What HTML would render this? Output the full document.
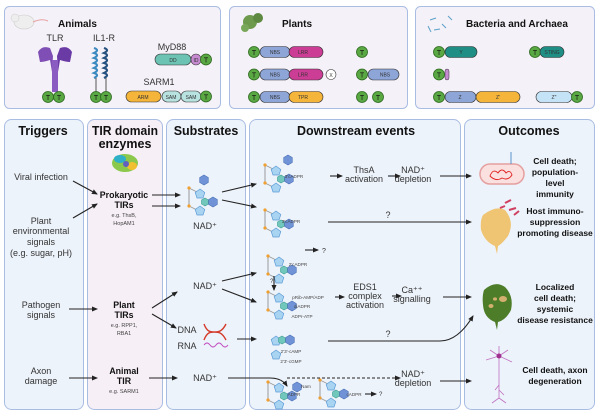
<!DOCTYPE html>
<html><head><meta charset="utf-8"><style>
html,body{margin:0;padding:0;background:#fff;}
svg{display:block;font-family:"Liberation Sans",sans-serif;}
.h{font-weight:bold;font-size:12.5px;text-anchor:middle;fill:#111;}
.t{font-size:9px;fill:#333;text-anchor:middle;}
.b{font-size:8.8px;font-weight:bold;fill:#111;text-anchor:middle;}
.s{font-size:5.5px;fill:#444;text-anchor:middle;}
.x{font-size:4.6px;fill:#444;text-anchor:middle;}
.o{font-size:8.5px;font-weight:bold;fill:#111;text-anchor:middle;}
.a{stroke:#222;stroke-width:1.1;fill:none;marker-end:url(#ar);}
.p{font-size:5px;fill:#333;text-anchor:middle;}
</style></head><body>
<svg width="600" height="416" viewBox="0 0 600 416">
<defs>
<marker id="ar" markerWidth="6" markerHeight="6" refX="5" refY="3" orient="auto" markerUnits="userSpaceOnUse"><path d="M0,0.5 L6,3 L0,5.5z" fill="#222"/></marker>
<g id="pent"><polygon points="0,-5 4.8,-1.5 3,4 -3,4 -4.8,-1.5" fill="#a8d4f2" stroke="#5b9bd5" stroke-width="0.7"/></g>
<g id="hex"><polygon points="0,-5 4.3,-2.5 4.3,2.5 0,5 -4.3,2.5 -4.3,-2.5" fill="#6f93d6" stroke="#4a6fb5" stroke-width="0.6"/></g>
<g id="hext"><polygon points="0,-4 3.5,-2 3.5,2 0,4 -3.5,2 -3.5,-2" fill="#72c7bc" stroke="#3e9e92" stroke-width="0.6"/></g>
<g id="cyc">
<line x1="0" y1="0" x2="0" y2="18" stroke="#999" stroke-width="1"/>
<line x1="0" y1="0" x2="8" y2="4" stroke="#999" stroke-width="0.8"/>
<line x1="0" y1="18" x2="8" y2="22" stroke="#999" stroke-width="0.8"/>
<use href="#pent" x="11" y="6"/><use href="#pent" x="11" y="23"/>
<use href="#hext" x="16" y="14"/><use href="#hex" x="24" y="14"/>
<circle cx="0" cy="0" r="1.6" fill="#f0a030"/><circle cx="0" cy="18" r="1.6" fill="#f0a030"/>
</g>
<g id="tt"><circle r="5.5" fill="#5aa843" stroke="#2d6a1f" stroke-width="0.8"/><text y="3" font-size="7" text-anchor="middle" fill="#111">T</text></g>
</defs>

<!-- top panels -->
<rect x="4.5" y="6.5" width="216" height="102" rx="5" fill="#f5f1f8" stroke="#a9bde3"/>
<rect x="229.5" y="6.5" width="178" height="102" rx="5" fill="#f5f1f8" stroke="#a9bde3"/>
<rect x="415.5" y="6.5" width="179" height="102" rx="5" fill="#f5f1f8" stroke="#a9bde3"/>

<!-- Animals -->
<ellipse cx="24" cy="22" rx="10" ry="7" fill="#eee" stroke="#ccc" stroke-width="0.6"/>
<circle cx="15" cy="18" r="4" fill="#eee" stroke="#ccc" stroke-width="0.5"/>
<path d="M33,22 Q42,18 48,21" stroke="#e6a0a0" fill="none"/>
<text x="58" y="27" font-size="10" font-weight="bold" fill="#111">Animals</text>
<text x="55" y="41" class="t">TLR</text>
<text x="104" y="41" class="t">IL1-R</text>
<text x="172" y="50" class="t">MyD88</text>
<text x="159" y="85" class="t">SARM1</text>
<path d="M38,52 Q42,45 50,48 L53,56 L52,72 L50,60 Q44,62 40,62 Z" fill="#7f4fb5"/>
<path d="M72,52 Q68,45 60,48 L57,56 L58,72 L60,60 Q66,62 70,62 Z" fill="#6a3aa5"/>
<rect x="52" y="60" width="6" height="32" fill="#8a5cc2"/>
<use href="#tt" x="48" y="97"/><use href="#tt" x="59" y="97"/>
<path d="M94,48 q6,2 0,5 q6,2 0,5 q6,2 0,5 q6,2 0,5 q6,2 0,5 q6,2 0,5" fill="none" stroke="#3a8ac0" stroke-width="2.2"/>
<path d="M104,48 q6,2 0,5 q6,2 0,5 q6,2 0,5 q6,2 0,5 q6,2 0,5 q6,2 0,5" fill="none" stroke="#24517f" stroke-width="2.2"/>
<line x1="96" y1="78" x2="96" y2="92" stroke="#555"/><line x1="106" y1="78" x2="106" y2="92" stroke="#555"/>
<use href="#tt" x="96" y="97"/><use href="#tt" x="106" y="97"/>
<rect x="155" y="54" width="36" height="11" rx="5.5" fill="#6cc3b3" stroke="#333" stroke-width="0.6"/><text x="173" y="62" class="p">DD</text>
<rect x="191" y="54" width="10" height="11" rx="5" fill="#c58ad0" stroke="#333" stroke-width="0.6"/><text x="196" y="62" class="p">ID</text>
<use href="#tt" x="206" y="59.5"/>
<rect x="126" y="91" width="35" height="11" rx="5.5" fill="#f5b53a" stroke="#333" stroke-width="0.6"/><text x="143" y="99" class="p">ARM</text>
<rect x="162" y="91" width="19" height="11" rx="5.5" fill="#b8e2e0" stroke="#333" stroke-width="0.6"/><text x="171" y="99" class="p">SAM</text>
<rect x="181" y="91" width="20" height="11" rx="5.5" fill="#b8e2e0" stroke="#333" stroke-width="0.6"/><text x="191" y="99" class="p">SAM</text>
<use href="#tt" x="206" y="96.5"/>

<!-- Plants -->
<circle cx="250" cy="22" r="7" fill="#6e9a4e"/><circle cx="258" cy="18" r="5" fill="#5d8a40"/><circle cx="245" cy="28" r="4" fill="#7aa85a"/>
<text x="282" y="27" font-size="10" font-weight="bold" fill="#111">Plants</text>
<g>
<use href="#tt" x="254" y="52"/>
<rect x="260" y="46.5" width="30" height="11" rx="5.5" fill="#8ea5d8" stroke="#333" stroke-width="0.6"/><text x="275" y="54" class="p">NBS</text>
<rect x="289" y="46.5" width="34" height="11" rx="5.5" fill="#cc3d96" stroke="#333" stroke-width="0.6"/><text x="303" y="54" class="p">LRR</text>
<use href="#tt" x="254" y="74.5"/>
<rect x="260" y="69" width="30" height="11" rx="5.5" fill="#8ea5d8" stroke="#333" stroke-width="0.6"/><text x="275" y="76.5" class="p">NBS</text>
<rect x="289" y="69" width="34" height="11" rx="5.5" fill="#cc3d96" stroke="#333" stroke-width="0.6"/><text x="303" y="76.5" class="p">LRR</text>
<circle cx="331" cy="74.5" r="5" fill="#fff" stroke="#333" stroke-width="0.6"/><text x="331" y="77" class="p">X</text>
<use href="#tt" x="254" y="97"/>
<rect x="260" y="91.5" width="30" height="11" rx="5.5" fill="#8ea5d8" stroke="#333" stroke-width="0.6"/><text x="275" y="99" class="p">NBS</text>
<rect x="289" y="91.5" width="34" height="11" rx="5.5" fill="#f5b53a" stroke="#333" stroke-width="0.6"/><text x="303" y="99" class="p">TPR</text>
<use href="#tt" x="362" y="52"/>
<use href="#tt" x="362" y="74.5"/>
<rect x="368" y="69" width="31" height="11" rx="5.5" fill="#8ea5d8" stroke="#333" stroke-width="0.6"/><text x="385" y="76.5" class="p">NBS</text>
<use href="#tt" x="362" y="97"/><use href="#tt" x="378" y="97"/>
</g>

<!-- Bacteria -->
<g stroke="#5aa0c8" stroke-width="1"><line x1="430" y1="20" x2="436" y2="18"/><line x1="442" y1="24" x2="446" y2="28"/><line x1="434" y1="30" x2="440" y2="29"/><line x1="448" y1="16" x2="452" y2="20"/><line x1="428" y1="26" x2="431" y2="32"/></g>
<text x="466" y="27" font-size="10" font-weight="bold" fill="#111">Bacteria and Archaea</text>
<use href="#tt" x="439" y="52"/>
<rect x="445" y="46.5" width="32" height="11" rx="5.5" fill="#1f8f86" stroke="#333" stroke-width="0.6"/><text x="461" y="54" class="p">Y</text>
<use href="#tt" x="535" y="52"/>
<rect x="540" y="46.5" width="24" height="11" rx="5.5" fill="#1f8f86" stroke="#333" stroke-width="0.6"/><text x="552" y="54" class="p">STING</text>
<use href="#tt" x="439" y="74.5"/>
<rect x="445" y="69" width="4" height="11" rx="2" fill="#c58ad0" stroke="#333" stroke-width="0.5"/>
<use href="#tt" x="439" y="97"/>
<rect x="445" y="91.5" width="31" height="11" rx="5.5" fill="#8ea5d8" stroke="#333" stroke-width="0.6"/><text x="460" y="99" class="p">Z</text>
<rect x="476" y="91.5" width="44" height="11" rx="5.5" fill="#f5b53a" stroke="#333" stroke-width="0.6"/><text x="498" y="99" class="p">Z'</text>
<rect x="536" y="91.5" width="36" height="11" rx="5.5" fill="#c5e3f7" stroke="#333" stroke-width="0.6"/><text x="554" y="99" class="p">Z''</text>
<use href="#tt" x="577" y="97"/>

<!-- columns -->
<rect x="4.5" y="119.5" width="79" height="290" rx="7" fill="#edf3fb" stroke="#a9bde3"/>
<rect x="87.5" y="119.5" width="75" height="290" rx="7" fill="#f6eff6" stroke="#a9bde3"/>
<rect x="166.5" y="119.5" width="79" height="290" rx="7" fill="#edf3fb" stroke="#a9bde3"/>
<rect x="249.5" y="119.5" width="211" height="290" rx="7" fill="#edf3fb" stroke="#a9bde3"/>
<rect x="464.5" y="119.5" width="130" height="290" rx="7" fill="#edf3fb" stroke="#a9bde3"/>

<text x="43" y="135" class="h">Triggers</text>
<text x="125" y="135" class="h" textLength="66" lengthAdjust="spacingAndGlyphs">TIR domain</text>
<text x="125" y="148" class="h">enzymes</text>
<text x="206" y="135" class="h">Substrates</text>
<text x="356" y="135" class="h">Downstream events</text>
<text x="529" y="135" class="h">Outcomes</text>

<!-- protein structure -->
<g><ellipse cx="125" cy="163" rx="13" ry="9" fill="#8cc84b"/><ellipse cx="120" cy="159" rx="6" ry="4" fill="#2fb0c8"/><ellipse cx="132" cy="166" rx="5" ry="4" fill="#f0c030"/><circle cx="126" cy="164" r="3" fill="#6060c0"/></g>

<!-- triggers -->
<text x="41" y="180" class="t">Viral infection</text>
<text x="41" y="224" class="t">Plant</text>
<text x="41" y="234" class="t">environmental</text>
<text x="41" y="245" class="t">signals</text>
<text x="41" y="256" class="t">(e.g. sugar, pH)</text>
<text x="41" y="308" class="t">Pathogen</text>
<text x="41" y="318" class="t">signals</text>
<text x="41" y="374" class="t">Axon</text>
<text x="41" y="384" class="t">damage</text>

<text x="124" y="198" class="b">Prokaryotic</text>
<text x="124" y="208" class="b">TIRs</text>
<text x="124" y="217" class="s">e.g. ThsB,</text>
<text x="124" y="225" class="s">HopAM1</text>
<text x="124" y="308" class="b">Plant</text>
<text x="124" y="318" class="b">TIRs</text>
<text x="124" y="327" class="s">e.g. RPP1,</text>
<text x="124" y="335" class="s">RBA1</text>
<text x="124" y="374" class="b">Animal</text>
<text x="124" y="384" class="b">TIR</text>
<text x="124" y="393" class="s">e.g. SARM1</text>

<path class="a" d="M73,181 L97,194"/>
<path class="a" d="M73,218 L97,204"/>
<path class="a" d="M69,309 L97,309"/>
<path class="a" d="M69,378 L97,378"/>
<path class="a" d="M152,195 L180,195"/>
<path class="a" d="M152,206 L180,206"/>
<path class="a" d="M152,308 L177,292"/>
<path class="a" d="M152,314 L176,328"/>
<path class="a" d="M149,378 L177,378"/>

<!-- substrates -->
<use href="#cyc" x="189" y="188"/>
<use href="#hex" x="204" y="180"/>
<text x="205" y="229" class="t">NAD⁺</text>
<text x="205" y="289" class="t">NAD⁺</text>
<text x="205" y="381" class="t">NAD⁺</text>
<text x="187" y="333" class="t">DNA</text>
<text x="187" y="349" class="t">RNA</text>
<path d="M204,324 C210,340 218,324 226,340 M204,340 C210,324 218,340 226,324" stroke="#d43b2a" stroke-width="1.4" fill="none"/>
<path d="M204,345 q3,-4 6,0 t6,0 t6,0 t6,0" stroke="#c050c0" stroke-width="1" fill="none"/>
<path class="a" d="M222,192 L256,184"/>
<path class="a" d="M222,200 L256,207"/>
<path class="a" d="M222,281 L256,273"/>
<path class="a" d="M222,289 L256,302"/>
<path class="a" d="M237,339 L256,339"/>

<!-- downstream -->
<use href="#cyc" x="265" y="165"/><use href="#hex" x="288" y="160"/>
<text x="294" y="178" class="x">3'cADPR</text>
<use href="#cyc" x="265" y="210"/>
<text x="291" y="223" class="x">3'cADPR</text>
<use href="#cyc" x="268" y="256"/>
<text x="298" y="266" class="x">2'cADPR</text>
<path class="a" d="M305,250 L318,250"/><text x="322" y="253" font-size="7" fill="#333">?</text>
<text x="270" y="283" font-size="6" fill="#333">?</text>
<path class="a" d="M274,276 L274,290"/>
<use href="#cyc" x="268" y="292"/>
<text x="308" y="299" class="x">pRib-AMP/ADP</text>
<text x="302" y="308" class="x">diADPR</text>
<text x="302" y="318" class="x">ADPr-ATP</text>
<use href="#pent" x="276" y="341"/><use href="#pent" x="276" y="355"/><use href="#hext" x="282" y="340"/><use href="#hex" x="290" y="340"/>
<text x="291" y="353" class="x">2'3'-cAMP</text>
<text x="291" y="363" class="x">2'3'-cGMP</text>
<use href="#cyc" x="268" y="382"/>
<text x="294" y="396" class="x">ADPR</text>
<use href="#hex" x="297" y="387"/><text x="306" y="388" class="x">Nam</text>
<use href="#cyc" x="320" y="380"/>
<text x="354" y="396" class="x">cADPR</text>
<path class="a" d="M365,394 L376,394"/><text x="379" y="396" font-size="6" fill="#333">?</text>

<path class="a" d="M330,176 L342,176"/>
<text x="364" y="173" class="t">ThsA</text><text x="364" y="182" class="t">activation</text>
<path class="a" d="M388,176 L400,176"/>
<text x="413" y="173" class="t">NAD⁺</text><text x="413" y="182" class="t">depletion</text>
<path class="a" d="M440,176 L471,176"/>
<path class="a" d="M328,222 L471,222"/><text x="388" y="218" class="t">?</text>
<path class="a" d="M335,297 L344,297"/>
<text x="365" y="290" class="t">EDS1</text><text x="365" y="299" class="t">complex</text><text x="365" y="308" class="t">activation</text>
<path class="a" d="M392,296 L401,296"/>
<text x="412" y="293" class="t">Ca⁺⁺</text><text x="412" y="302" class="t">signalling</text>
<path class="a" d="M443,297 L471,297"/>
<path class="a" d="M328,341 L440,341 Q458,341 473,316"/><text x="388" y="337" class="t">?</text>
<path class="a" d="M228,378 L270,378 Q282,378 287,386"/>
<path class="a" d="M287,378 L400,378" stroke-dasharray="3,2"/>
<text x="413" y="377" class="t">NAD⁺</text><text x="413" y="386" class="t">depletion</text>
<path class="a" d="M440,381 L471,381"/>

<!-- outcomes -->
<rect x="480" y="164" width="44" height="20" rx="10" fill="#fbe0e0" stroke="#e5a0a0" stroke-width="1.5"/>
<path d="M490,176 q3,-8 8,-3 q4,-6 8,0 q4,-4 6,2 q-4,6 -10,3 q-6,4 -12,-2z" fill="none" stroke="#e02020" stroke-width="0.9"/>
<line x1="511" y1="152" x2="511" y2="164" stroke="#5a90c8"/>
<text x="555" y="164" class="o">Cell death;</text>
<text x="555" y="175" class="o">population-</text>
<text x="555" y="186" class="o">level</text>
<text x="555" y="197" class="o">immunity</text>
<path d="M483,215 Q496,205 505,210 Q515,222 508,236 Q502,244 498,246 L497,254 L495,246 Q485,242 481,230 Q480,220 483,215z" fill="#efc472"/>
<g stroke="#d04060" stroke-width="2"><line x1="505" y1="203" x2="511" y2="200"/><line x1="509" y1="210" x2="516" y2="208"/><line x1="514" y1="215" x2="519" y2="211"/><line x1="500" y1="208" x2="505" y2="206"/></g>
<text x="555" y="214" class="o">Host immuno-</text>
<text x="555" y="225" class="o">suppression</text>
<text x="555" y="236" class="o">promoting disease</text>
<path d="M484,290 Q495,280 505,287 Q514,296 511,310 Q506,320 498,322 L497,330 L495,322 Q484,318 483,305 Q482,296 484,290z" fill="#4e7d2a"/>
<ellipse cx="503" cy="299" rx="4" ry="3" fill="#d4b070"/><ellipse cx="491" cy="306" rx="2.5" ry="2" fill="#d4b070"/><ellipse cx="495" cy="299" rx="2" ry="1.6" fill="#d4b070"/>
<text x="555" y="290" class="o">Localized</text>
<text x="555" y="301" class="o">cell death;</text>
<text x="555" y="312" class="o">systemic</text>
<text x="555" y="323" class="o">disease resistance</text>
<g stroke="#c070c0" stroke-width="0.8" fill="none"><line x1="499" y1="354" x2="499" y2="398"/><path d="M499,356 L490,350 M499,356 L508,350 M499,356 L486,360 M499,356 L512,362 M499,356 L499,346 M499,398 L492,403 M499,398 L506,403 M499,385 L495,390 M499,390 L504,395"/></g>
<circle cx="499" cy="356" r="2.5" fill="#a03090"/>
<text x="555" y="373" class="o">Cell death, axon</text>
<text x="555" y="384" class="o">degeneration</text>
</svg>
</body></html>
